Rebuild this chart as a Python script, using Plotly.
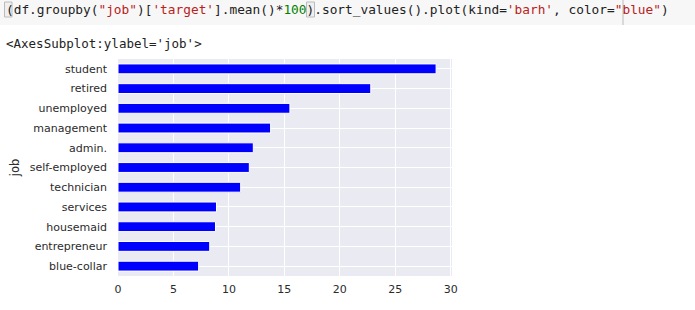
import plotly.graph_objects as go

# Data (sorted ascending, bottom to top)
jobs = ["blue-collar", "entrepreneur", "housemaid", "services", "technician",
        "self-employed", "admin.", "management", "unemployed", "retired", "student"]
target_pct = [7.27, 8.27, 8.79, 8.88, 11.06, 11.84, 12.20, 13.76, 15.50, 22.79, 28.68]
x_ticks = [0, 5, 10, 15, 20, 25, 30]

W, H = 695, 310
L, R, T, B = 118, 243, 59, 34
PW, PH = W - L - R, H - T - B


def px(x):
    return (x - L) / PW


def py(y):
    return (H - B - y) / PH


fig = go.Figure()
fig.add_trace(go.Bar(
    x=target_pct, y=jobs, orientation="h", width=0.5,
    marker=dict(color="blue", line=dict(color="white", width=1)),
    hoverinfo="x+y",
))

TXT = "#2b2b2b"
fig.update_layout(
    width=W, height=H,
    margin=dict(l=L, r=R, t=T, b=B, pad=0),
    paper_bgcolor="white", plot_bgcolor="#EAEAF2",
    showlegend=False,
    font=dict(family="DejaVu Sans", size=11, color=TXT),
    xaxis=dict(range=[0, max(target_pct) * 1.05], tickvals=x_ticks,
               showgrid=True, gridcolor="white", gridwidth=1.2,
               zeroline=False, showline=False, ticks="",
               ticklabelstandoff=5, tickfont=dict(size=11, color=TXT)),
    yaxis=dict(categoryorder="array", categoryarray=jobs, range=[-0.5, len(jobs) - 0.5],
               showgrid=True, gridcolor="white", gridwidth=1.2,
               zeroline=False, showline=False, ticks="",
               ticklabelstandoff=10, tickfont=dict(size=11, color=TXT),
               title=dict(text="job", font=dict(size=11.5, color=TXT), standoff=7)),
)

# Notebook code cell background
shapes = [
    dict(type="rect", xref="paper", yref="paper", x0=px(0), x1=px(W), y0=py(25), y1=py(0),
         fillcolor="#F7F7F7", line=dict(width=0), layer="below"),
    dict(type="line", xref="paper", yref="paper", x0=px(623), x1=px(623), y0=py(25), y1=py(0),
         line=dict(color="#BBBBBB", width=1)),
    dict(type="rect", xref="paper", yref="paper", x0=px(4.5), x1=px(12), y0=py(17), y1=py(2),
         fillcolor="rgba(0,0,0,0.03)", line=dict(color="#BBBBBB", width=1)),
    dict(type="rect", xref="paper", yref="paper", x0=px(306.5), x1=px(314.5), y0=py(17), y1=py(2),
         fillcolor="rgba(0,0,0,0.03)", line=dict(color="#BBBBBB", width=1)),
]
fig.update_layout(shapes=shapes)

red = "#BA2121"
green = "#008000"
code = ('(df.groupby(<span style="color:%s">"job"</span>)[<span style="color:%s">\'target\'</span>].mean()*'
        '<span style="color:%s">100</span>).sort_values().plot(kind=<span style="color:%s">\'barh\'</span>, '
        'color=<span style="color:%s">"blue"</span>)') % (red, red, green, red, red)

fig.add_annotation(text=code, xref="paper", yref="paper", x=px(4), y=py(10),
                   xanchor="left", yanchor="middle", showarrow=False,
                   font=dict(family="DejaVu Sans Mono", size=12.8, color="#222222"))
fig.add_annotation(text="&lt;AxesSubplot:ylabel='job'&gt;", xref="paper", yref="paper",
                   x=px(4), y=py(43), xanchor="left", yanchor="middle", showarrow=False,
                   font=dict(family="DejaVu Sans Mono", size=12.5, color="#222222"))

fig.write_html("out.html")
